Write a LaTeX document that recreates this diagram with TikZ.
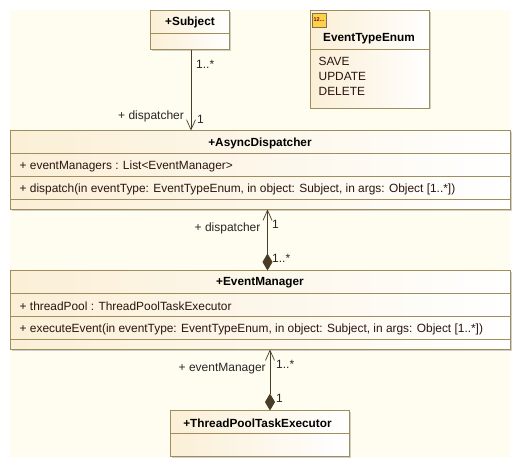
\documentclass[tikz,border=0pt]{standalone}
\usepackage{fontspec}
\setmainfont{Liberation Sans}
\usepackage{xcolor}
\usetikzlibrary{arrows.meta,shadows}
\definecolor{umlpanel}{HTML}{FFFDF0}
\definecolor{umlline}{HTML}{A08D5E}
\definecolor{umlfill}{HTML}{FBEFD6}
\definecolor{umllink}{HTML}{4A3D28}
\definecolor{umltext}{HTML}{2A1410}

\begin{document}
\begin{tikzpicture}[x=1pt,y=-1pt,
    umlbox/.style={draw=umlline, line width=0.9pt, left color=umlfill, right color=white,
      inner sep=0pt, outer sep=0pt, anchor=north west,
      drop shadow={shadow xshift=1pt, shadow yshift=-1pt, fill=gray!60, opacity=0.6}},
    umlrule/.style={draw=umlline, line width=0.9pt},
    umltitle/.style={font=\fontsize{11.8}{13}\selectfont\bfseries, text=black, inner sep=0pt},
    umlrow/.style={font=\fontsize{11.9}{13}\selectfont, text=umltext, inner sep=0pt, anchor=west},
    umlrole/.style={font=\fontsize{12}{13}\selectfont, text=black!85, inner sep=0pt, anchor=west},
    umllinkline/.style={draw=umllink, line width=0.9pt},
    umlnav/.style={umllinkline, -{Straight Barb[length=10pt,width=9pt,line width=0.7pt]}},
    umlcomp/.style={umllinkline, {Diamond[length=17pt,width=10pt,fill=umllink]}-{Straight Barb[length=10pt,width=9pt,line width=0.7pt]}}]
  \useasboundingbox (0,0) rectangle (521,467);
  \fill[white] (0,0) rectangle (521,467);
  \fill[umlpanel] (10,10) rectangle (510,457);

  % classes
  \node[umlbox, minimum width=79pt, minimum height=39pt] (subjectbox) at (150.5,10.5) {};
  \node[umlbox, minimum width=119pt, minimum height=97.5pt] (enumbox) at (310.5,10.5) {};
  \node[umlbox, minimum width=500pt, minimum height=79pt] (asyncbox) at (10.5,130.5) {};
  \node[umlbox, minimum width=500pt, minimum height=79pt] (managerbox) at (10.5,270.5) {};
  \node[umlbox, minimum width=179pt, minimum height=46pt] (threadbox) at (170.5,410.5) {};

  % compartments
  \draw[umlrule] ([yshift=-23pt]subjectbox.north west) -- ([yshift=-23pt]subjectbox.north east);
  \draw[umlrule] ([yshift=-39pt]enumbox.north west) -- ([yshift=-39pt]enumbox.north east);
  \draw[umlrule] ([yshift=-23pt]asyncbox.north west) -- ([yshift=-23pt]asyncbox.north east);
  \draw[umlrule] ([yshift=-46pt]asyncbox.north west) -- ([yshift=-46pt]asyncbox.north east);
  \draw[umlrule] ([yshift=-69pt]asyncbox.north west) -- ([yshift=-69pt]asyncbox.north east);
  \draw[umlrule] ([yshift=-23pt]managerbox.north west) -- ([yshift=-23pt]managerbox.north east);
  \draw[umlrule] ([yshift=-46pt]managerbox.north west) -- ([yshift=-46pt]managerbox.north east);
  \draw[umlrule] ([yshift=-69pt]managerbox.north west) -- ([yshift=-69pt]managerbox.north east);
  \draw[umlrule] ([yshift=-23pt]threadbox.north west) -- ([yshift=-23pt]threadbox.north east);

  % texts
  \node[umltitle] (subjecttitle) at (190,22.5) {+Subject};
  \node[draw=umlline!80!black, fill=yellow!55!orange!70, line width=0.8pt, minimum width=14pt, minimum height=14pt,
    inner sep=0pt, text=red!50!black, font=\fontsize{5.5}{6}\selectfont\bfseries] (enumicon) at (319,20) {12...};
  \node[umltitle] (enumtitle) at (369,39) {EventTypeEnum};
  \node[umlrow] (enumsave) at (318.5,61.5) {SAVE};
  \node[umlrow] (enumupdate) at (318.5,76.5) {UPDATE};
  \node[umlrow] (enumdelete) at (318.5,91.5) {DELETE};
  \node[umltitle] (asynctitle) at (260,143) {+AsyncDispatcher};
  \node[umlrow] (asyncattr) at (19.5,166.5) {+ eventManagers : List<EventManager>};
  \node[umlrow] (asyncop) at (19.5,189.5) {+ dispatch(in eventType: EventTypeEnum, in object: Subject, in args: Object [1..*])};
  \node[umltitle] (managertitle) at (260,283) {+EventManager};
  \node[umlrow] (managerattr) at (19.5,306.5) {+ threadPool : ThreadPoolTaskExecutor};
  \node[umlrow] (managerop) at (19.5,329.5) {+ executeEvent(in eventType: EventTypeEnum, in object: Subject, in args: Object [1..*])};
  \node[umltitle] (threadtitle) at (257.5,423) {+ThreadPoolTaskExecutor};

  % associations
  \draw[umlnav] ([xshift=1pt]subjectbox.south) -- ([xshift=1pt]subjectbox.south |- asyncbox.north);
  \draw[umlcomp] ([xshift=7pt]managerbox.north) -- ([xshift=7pt]asyncbox.south);
  \draw[umlcomp] ([xshift=10pt]threadbox.north) -- ([xshift=10pt]threadbox.north |- managerbox.south);

  % association ends
  \node[umlrole] (subjectmany) at (196,64) {1..*};
  \node[umlrole] (subjectrole) at (118,116) {+ dispatcher};
  \node[umlrole] (subjectone) at (197,119) {1};
  \node[umlrole] (asyncrole) at (194.5,228) {+ dispatcher};
  \node[umlrole] (asyncone) at (272,224.5) {1};
  \node[umlrole] (managermany) at (272,258.5) {1..*};
  \node[umlrole] (managerrole) at (178.5,368.5) {+ eventManager};
  \node[umlrole] (threadmany) at (276,364.5) {1..*};
  \node[umlrole] (threadone) at (276,398.5) {1};
\end{tikzpicture}
\end{document}
